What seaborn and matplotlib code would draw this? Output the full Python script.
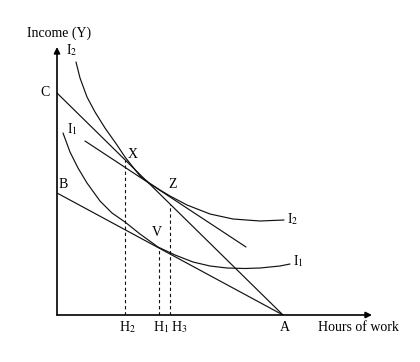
import numpy as np
import pandas as pd
import seaborn as sns
import matplotlib
matplotlib.use('Agg')
import matplotlib.pyplot as plt

# 劳动供给：无差异曲线与预算线（读图估计的坐标）
i2_x = [19, 23, 30, 38, 48, 60, 68, 83, 93, 103, 113, 130, 153, 176, 203, 227]
i2_y = [253, 237, 218, 203, 187, 170, 158, 139, 131.5, 125, 119, 110, 101, 96, 94, 95]

i1_x = [6, 13, 21, 30, 43, 55, 68, 83, 101, 118, 136, 153, 170, 188, 203, 223, 233]
i1_y = [182, 163, 147, 132, 114, 102, 93, 81, 68, 60, 53, 49, 47, 46.5, 47, 49, 51]

# 预算线端点 C-A, B-A, 以及切线
ca_x = [0, 226]
ca_y = [222, 0]
ba_x = [0, 226]
ba_y = [122, 0]
tan_x = [28, 189]
tan_y = [174, 68]

# 虚线 H2, H1, H3
h_x = [68, 102, 113]
h_top = [155, 66, 111]
h_labels = ['H$_2$', 'H$_1$', 'H$_3$']
h_label_x = [62, 96, 114]

sns.set_style('white')
plt.rcParams['font.family'] = ['Liberation Serif', 'DejaVu Serif']
plt.rcParams['mathtext.fontset'] = 'stix'

fig = plt.figure(figsize=(4.2, 3.62), dpi=100)
ax = fig.add_axes([57 / 420, 47 / 362, 315 / 420, 268 / 362])
ax.set_xlim(0, 315)
ax.set_ylim(0, 268)
ax.axis('off')

lc = '#111111'
lw = 0.85
sns.lineplot(x=i2_x, y=i2_y, sort=False, estimator=None, color=lc, lw=lw, ax=ax)
sns.lineplot(x=i1_x, y=i1_y, sort=False, estimator=None, color=lc, lw=lw, ax=ax)
sns.lineplot(x=ca_x, y=ca_y, sort=False, estimator=None, color=lc, lw=lw, ax=ax)
sns.lineplot(x=ba_x, y=ba_y, sort=False, estimator=None, color=lc, lw=lw, ax=ax)
sns.lineplot(x=tan_x, y=tan_y, sort=False, estimator=None, color=lc, lw=lw, ax=ax)

for x, top in zip(h_x, h_top):
    ax.plot([x, x], [0, top], color=lc, lw=0.8, ls=(0, (3, 2.5)))

# 坐标轴箭头
arrow = dict(arrowstyle='-|>', mutation_scale=9, lw=1.2, color='black',
             shrinkA=0, shrinkB=0)
ax.annotate('', xy=(315, 0), xytext=(0, 0), arrowprops=arrow, annotation_clip=False)
ax.annotate('', xy=(0, 268), xytext=(0, 0), arrowprops=arrow, annotation_clip=False)

fs = 10
kw = dict(fontsize=fs, clip_on=False, color='black')
ax.text(2, 282, 'Income (Y)', ha='center', va='center', **kw)
ax.text(-12, 222, 'C', ha='center', va='center', **kw)
ax.text(6, 131, 'B', ha='center', va='center', **kw)
ax.text(15, 265, 'I$_2$', ha='center', va='center', **kw)
ax.text(15, 186, 'I$_1$', ha='center', va='center', **kw)
ax.text(76, 160, 'X', ha='center', va='center', **kw)
ax.text(116, 130, 'Z', ha='center', va='center', **kw)
ax.text(100, 83, 'V', ha='center', va='center', **kw)
ax.text(236, 96, 'I$_2$', ha='center', va='center', **kw)
ax.text(241, 54, 'I$_1$', ha='center', va='center', **kw)
ax.text(228, -12.5, 'A', ha='center', va='center', **kw)
ax.text(301, -12.5, 'Hours of work', ha='center', va='center', **kw)
for lx, lab in zip(h_label_x, h_labels):
    ax.text(lx, -12.5, lab, ha='left', va='center', **kw)

fig.savefig('out.png', dpi=100, facecolor='white')
